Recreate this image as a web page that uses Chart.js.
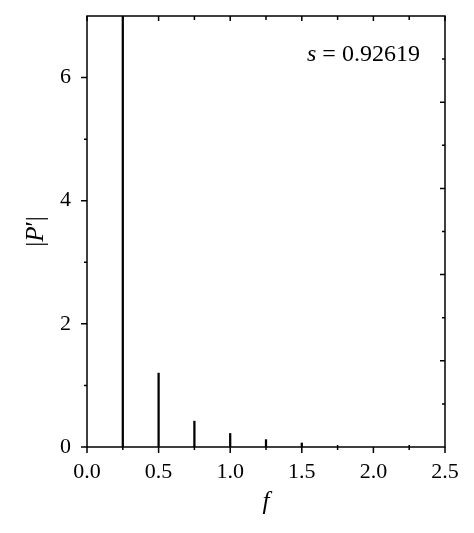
<!DOCTYPE html>
<html>
<head>
<meta charset="utf-8">
<script src="https://cdn.jsdelivr.net/npm/chart.js@4.4.3/dist/chart.umd.min.js"></script>
<style>
  html, body { margin: 0; padding: 0; background: #fff; }
  #wrap { width: 474px; height: 533px; }
</style>
</head>
<body>
<div id="wrap"><canvas id="espectro"></canvas></div>
<script>
// Datos
const frecuencias = [0.25, 0.5, 0.75, 1.0, 1.25, 1.5];
const amplitudes = [12, 1.2, 0.42, 0.22, 0.12, 0.065];

const xEtiquetas = [0, 0.5, 1.0, 1.5, 2.0, 2.5];
const xMenores = [0.25, 0.75, 1.25, 1.75, 2.25];
const yEtiquetas = [0, 2, 4, 6];
const yMenores = [1, 3, 5];
// marcas del eje derecho (no coinciden con el izquierdo)
const yDerecha = [0.7, 1.4, 2.1, 2.8, 3.5, 4.2, 4.9, 5.6, 6.3];

const serif = '"Liberation Serif", "DejaVu Serif", serif';

// Marco y marcas de los ejes
const marcoPlugin = {
    id: 'marco',
    afterDraw(chart) {
        const { ctx, chartArea: a, scales: { x, y } } = chart;
        ctx.save();
        ctx.strokeStyle = '#000';
        ctx.lineWidth = 1.5;
        ctx.strokeRect(a.left, a.top, a.right - a.left, a.bottom - a.top);

        ctx.beginPath();
        xEtiquetas.forEach(v => {
            const px = x.getPixelForValue(v);
            ctx.moveTo(px, a.bottom); ctx.lineTo(px, a.bottom + 6);
            ctx.moveTo(px, a.top); ctx.lineTo(px, a.top + 5);
        });
        xMenores.forEach(v => {
            const px = x.getPixelForValue(v);
            ctx.moveTo(px, a.bottom - 2); ctx.lineTo(px, a.bottom + 3);
            ctx.moveTo(px, a.top); ctx.lineTo(px, a.top + 4);
        });
        yEtiquetas.forEach(v => {
            const py = y.getPixelForValue(v);
            ctx.moveTo(a.left - 6, py); ctx.lineTo(a.left, py);
        });
        yMenores.forEach(v => {
            const py = y.getPixelForValue(v);
            ctx.moveTo(a.left - 3, py); ctx.lineTo(a.left, py);
        });
        yDerecha.forEach((v, i) => {
            const py = y.getPixelForValue(v);
            const largo = i % 2 === 1 ? 5 : 3;
            ctx.moveTo(a.right - largo, py); ctx.lineTo(a.right, py);
        });
        ctx.stroke();

        // anotacion
        ctx.fillStyle = '#000';
        ctx.textBaseline = 'alphabetic';
        ctx.textAlign = 'left';
        ctx.font = 'italic 24px ' + serif;
        const xs = 307;
        ctx.fillText('s', xs, 61);
        const ancho = ctx.measureText('s').width;
        ctx.font = '24px ' + serif;
        ctx.fillText(' = 0.92619', xs + ancho, 61);

        // titulo eje x
        ctx.textAlign = 'center';
        ctx.font = 'italic 25px ' + serif;
        ctx.fillText('f', (a.left + a.right) / 2, 509);

        // titulo eje y
        ctx.save();
        ctx.translate(43, (a.top + a.bottom) / 2);
        ctx.rotate(-Math.PI / 2);
        ctx.textAlign = 'left';
        const partes = [['|', '25px '], ['P', 'italic 25px '], ['\u2032', '25px '], ['|', '25px ']];
        let total = 0;
        partes.forEach(p => { ctx.font = p[1] + serif; total += ctx.measureText(p[0]).width; });
        let cx = -total / 2;
        partes.forEach(p => {
            ctx.font = p[1] + serif;
            ctx.fillText(p[0], cx, 0);
            cx += ctx.measureText(p[0]).width;
        });
        ctx.restore();

        ctx.restore();
    }
};

new Chart(document.getElementById('espectro'), {
    type: 'bar',
    data: {
        datasets: [{
            data: frecuencias.map((f, i) => ({ x: f, y: amplitudes[i] })),
            backgroundColor: '#000',
            borderWidth: 0,
            barThickness: 1.6
        }]
    },
    options: {
        responsive: true,
        maintainAspectRatio: false,
        animation: false,
        layout: { padding: { left: 0, right: 29, top: 16, bottom: 0 } },
        plugins: { legend: { display: false }, tooltip: { enabled: false } },
        scales: {
            x: {
                type: 'linear',
                min: 0,
                max: 2.5,
                offset: false,
                grid: { display: false, drawTicks: false },
                border: { display: false },
                afterFit(scale) {
                    scale.height = 86;
                    scale.paddingLeft = 0;
                    scale.paddingRight = 0;
                },
                afterBuildTicks(scale) { scale.ticks = xEtiquetas.map(v => ({ value: v })); },
                ticks: {
                    padding: 12,
                    color: '#000',
                    font: { family: serif, size: 22 },
                    maxRotation: 0,
                    callback: v => v.toFixed(1)
                }
            },
            y: {
                min: 0,
                max: 7,
                grid: { display: false, drawTicks: false },
                border: { display: false },
                afterFit(scale) {
                    scale.width = 87;
                    scale.paddingTop = 0;
                    scale.paddingBottom = 0;
                },
                afterBuildTicks(scale) { scale.ticks = yEtiquetas.map(v => ({ value: v })); },
                ticks: {
                    padding: 16,
                    color: '#000',
                    font: { family: serif, size: 22 }
                }
            }
        }
    },
    plugins: [marcoPlugin]
});
</script>
</body>
</html>
